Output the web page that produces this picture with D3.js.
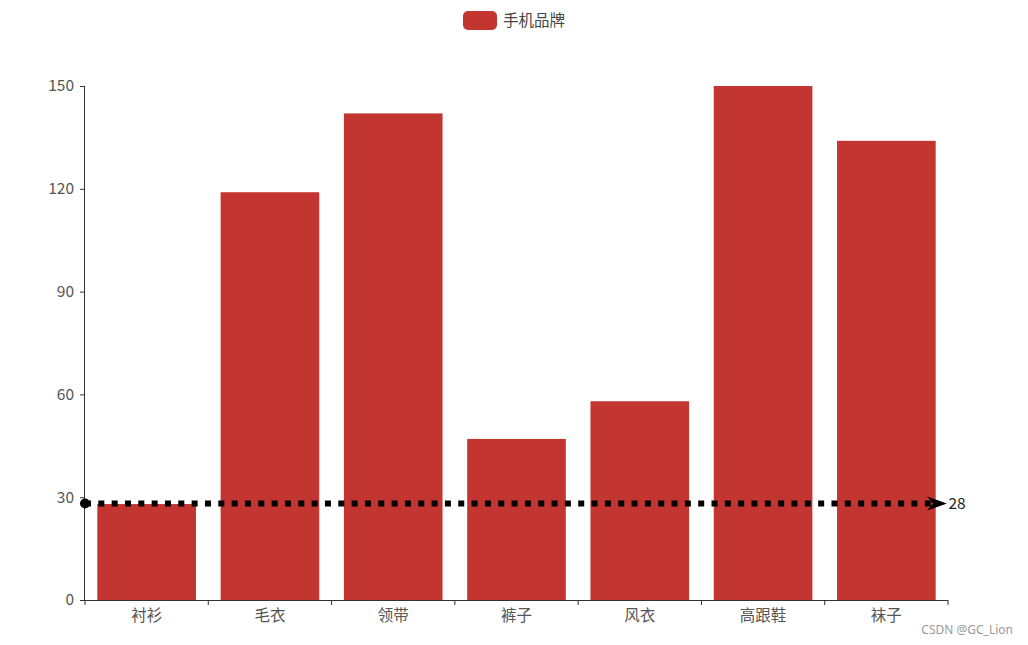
<!DOCTYPE html>
<html><head><meta charset="utf-8">
<script src="https://cdn.jsdelivr.net/npm/d3@7/dist/d3.min.js"></script>
<style>body{margin:0;background:#fff}svg{display:block}</style>
</head><body><svg id="c" width="1028" height="645"></svg>
<script>
const categories = ["衬衫","毛衣","领带","裤子","风衣","高跟鞋","袜子"];
const values = [28,119,142,47,58,150,134];
const yTicks = [0,30,60,90,120,150];
const seriesName = "手机品牌";
const markValue = 28;

const svg = d3.select("#c");
const font = "'Noto Sans CJK SC','Microsoft YaHei',sans-serif";
const L=85,R=948,T=86,B=600;
const x = d3.scaleBand().domain(categories).range([L,R]).paddingInner(0.2).paddingOuter(0.1);
const y = d3.scaleLinear().domain([0,150]).range([B,T]);

// bars
svg.append("g").selectAll("rect").data(values).join("rect")
  .attr("x",(d,i)=>x(categories[i])).attr("width",x.bandwidth())
  .attr("y",d=>y(d)).attr("height",d=>B-y(d)).attr("fill","#c23531");

// y axis
const ya = svg.append("g").attr("transform",`translate(${L},0)`)
  .call(d3.axisLeft(y).tickValues(yTicks).tickSize(5).tickPadding(6));
ya.select(".domain").attr("stroke","#333").attr("d",`M-0.5,${B}V${T}`);
ya.selectAll(".tick line").attr("stroke","#333");
ya.selectAll(".tick text").attr("fill","#555").style("font-size","15.5px").style("font-family",font);

// x axis
const xa = svg.append("g").attr("transform",`translate(0,${B})`)
  .call(d3.axisBottom(x).tickSize(0).tickPadding(10));
xa.select(".domain").attr("stroke","#333").attr("d",`M${L},0.5H${R}`);
xa.selectAll(".tick text").attr("fill","#555").style("font-size","15.5px").style("font-family",font);
const step = (R-L)/categories.length;
xa.selectAll(".bt").data(d3.range(categories.length+1)).join("line")
  .attr("x1",i=>L+i*step).attr("x2",i=>L+i*step).attr("y1",0).attr("y2",5)
  .attr("stroke","#333");

// mark line
const my = y(markValue) - 0.5;
svg.append("line").attr("x1",L).attr("x2",R-12).attr("y1",my).attr("y2",my)
  .attr("stroke","#000").attr("stroke-width",6).attr("stroke-dasharray","6,7.33");
svg.append("circle").attr("cx",L).attr("cy",my).attr("r",5).attr("fill","#000");
svg.append("path").attr("d",`M${R-21},${my-7}L${R-1},${my}L${R-21},${my+7}L${R-15},${my}Z`).attr("fill","#000");
svg.append("text").attr("x",R+0.5).attr("y",my).attr("dy","0.35em").text(markValue)
  .attr("fill","#222").style("font-size","15.5px").style("font-family",font);

// legend
svg.append("rect").attr("x",463).attr("y",11).attr("width",34).attr("height",19).attr("rx",5).attr("fill","#c23531");
svg.append("text").attr("x",503).attr("y",20.5).attr("dy","0.35em").text(seriesName)
  .attr("fill","#444").style("font-size","15.5px").style("font-family",font);

// watermark
svg.append("text").attr("x",1013).attr("y",630).attr("dy","0.35em").attr("text-anchor","end").text("CSDN @GC_Lion")
  .attr("fill","#999").style("font-size","12px").style("font-family","'Noto Sans',sans-serif");
</script></body></html>
